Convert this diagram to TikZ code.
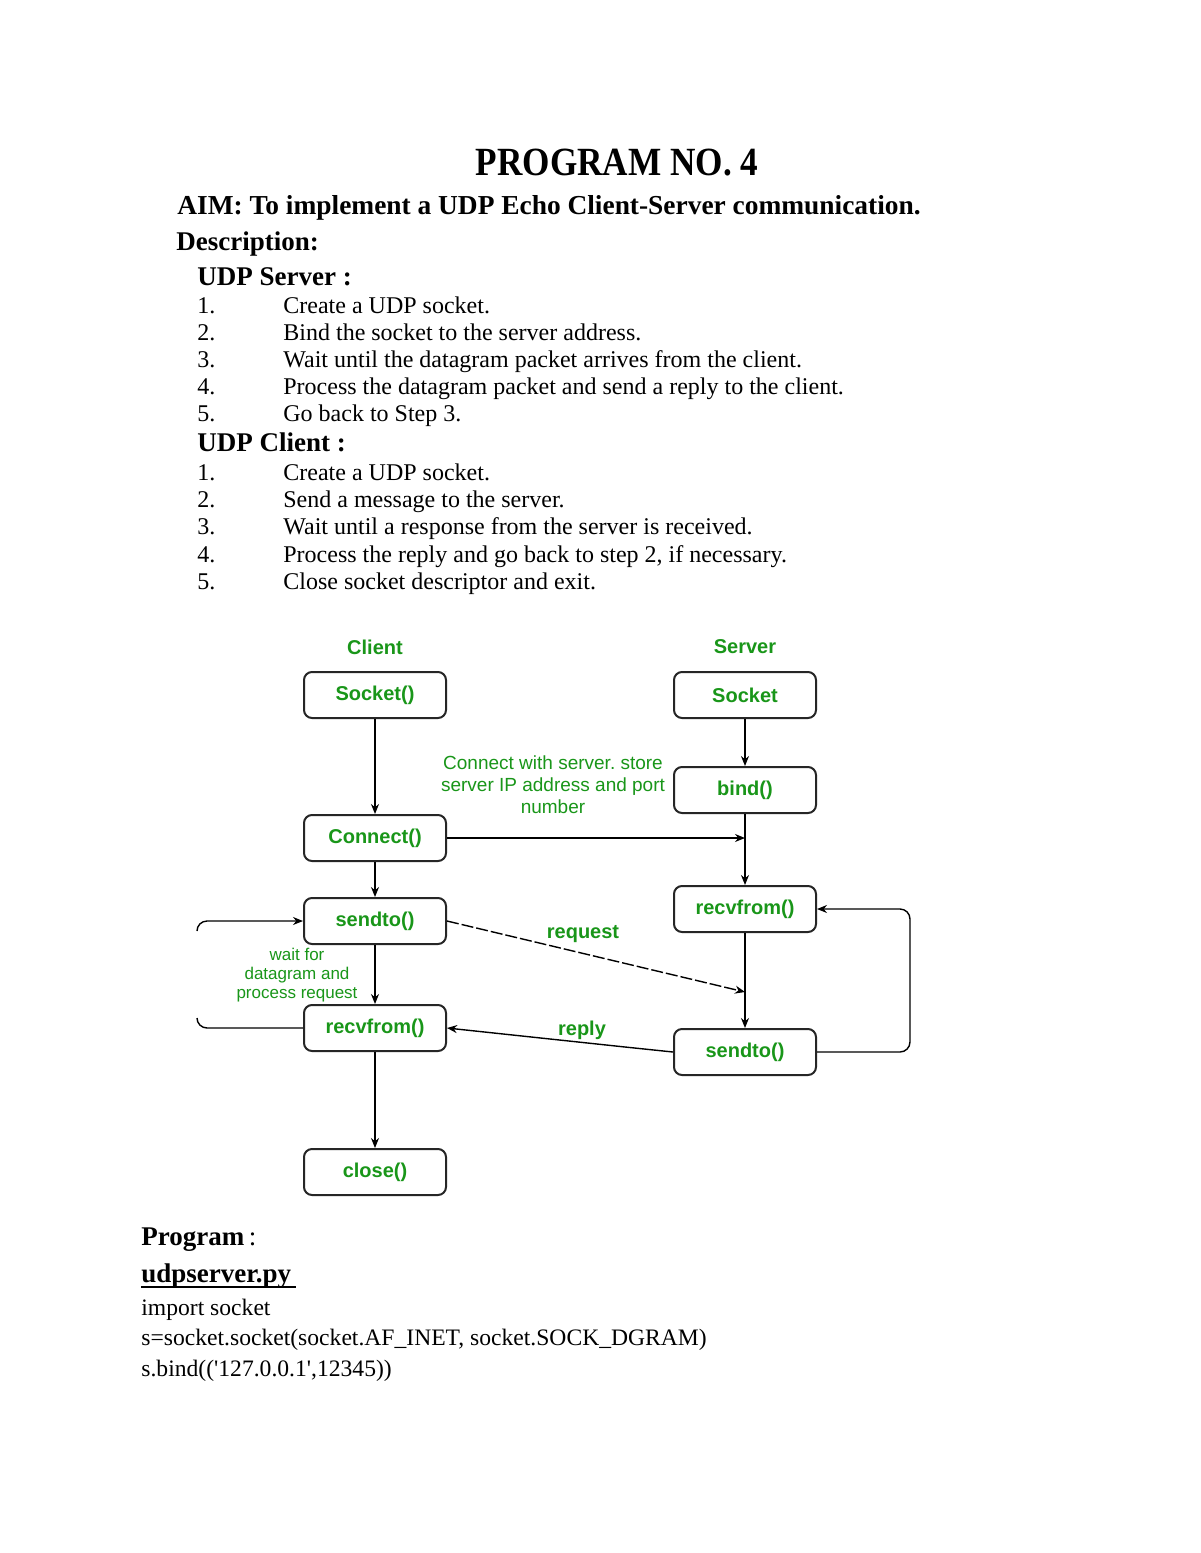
\documentclass[tikz,border=0pt]{standalone}
\usepackage{fontspec}
\setmainfont{Liberation Serif}
\newfontfamily\arialf{Liberation Sans}
\usetikzlibrary{arrows.meta}
\definecolor{gfg}{RGB}{25,150,25}
\begin{document}
\frenchspacing
\begin{tikzpicture}[x=0.5pt,y=-0.5pt,
  txt/.style={anchor=base west,inner sep=0pt,font=\fontsize{12}{14}\selectfont},
  box/.style={draw=black!85,line width=1pt,rounded corners=4pt,minimum width=71pt,minimum height=23pt,inner sep=0pt,
     font=\arialf\bfseries\fontsize{10}{12}\selectfont,text=gfg},
  lab/.style={font=\arialf\bfseries\fontsize{10}{12}\selectfont,text=gfg,inner sep=0pt},
  note/.style={text=gfg,align=center,inner sep=0pt},
  arr/.style={line width=0.7pt,-{Stealth[length=5pt,width=4pt]}},
  ln/.style={line width=0.7pt}]
\useasboundingbox[fill=white] (0,0) rectangle (1200,1553);

% ---- header text ----
\node[txt,anchor=base] (title) at (617,175) {\scalebox{0.88}[1]{\fontsize{20}{24}\selectfont\bfseries PROGRAM NO. 4}};
\node[txt] (aim) at (177,214) {\fontsize{13.7}{16}\selectfont\bfseries AIM: To implement a UDP Echo Client-Server communication.};
\node[txt] (desc) at (176,250) {\fontsize{13.5}{16}\selectfont\bfseries Description:};
\node[txt] (srvh) at (197,285) {\fontsize{13.5}{16}\selectfont\bfseries UDP Server :};
\node[txt] (s1n) at (197,313) {1.}; \node[txt] (s1) at (283,313) {Create a UDP socket.};
\node[txt] (s2n) at (197,340) {2.}; \node[txt] (s2) at (283,340) {Bind the socket to the server address.};
\node[txt] (s3n) at (197,367) {3.}; \node[txt] (s3) at (283,367) {Wait until the datagram packet arrives from the client.};
\node[txt] (s4n) at (197,394) {4.}; \node[txt] (s4) at (283,394) {Process the datagram packet and send a reply to the client.};
\node[txt] (s5n) at (197,421) {5.}; \node[txt] (s5) at (283,421) {Go back to Step 3.};
\node[txt] (clih) at (197,451) {\fontsize{13.5}{16}\selectfont\bfseries UDP Client :};
\node[txt] (c1n) at (197,480) {1.}; \node[txt] (c1) at (283,480) {Create a UDP socket.};
\node[txt] (c2n) at (197,507) {2.}; \node[txt] (c2) at (283,507) {Send a message to the server.};
\node[txt] (c3n) at (197,534) {3.}; \node[txt] (c3) at (283,534) {Wait until a response from the server is received.};
\node[txt] (c4n) at (197,562) {4.}; \node[txt] (c4) at (283,562) {Process the reply and go back to step 2, if necessary.};
\node[txt] (c5n) at (197,589) {5.}; \node[txt] (c5) at (283,589) {Close socket descriptor and exit.};

% ---- diagram ----
\node[lab] (clientlab) at (375,647) {Client};
\node[lab] (serverlab) at (745,647) {Server};

\node[box] (csock) at (375,695) {Socket()};
\node[box] (cconn) at (375,838) {Connect()};
\node[box] (csend) at (375,921) {sendto()};
\node[box] (crecv) at (375,1028) {recvfrom()};
\node[box] (cclose) at (375,1172) {close()};

\node[box] (ssock) at (745,695) {Socket};
\node[box] (sbind) at (745,790) {bind()};
\node[box] (srecv) at (745,909) {recvfrom()};
\node[box] (ssend) at (745,1052) {sendto()};

\draw[arr] (csock) -- (cconn);
\draw[arr] (cconn) -- (csend);
\draw[arr] (csend) -- (crecv);
\draw[arr] (crecv) -- (cclose);
\draw[arr] (ssock) -- (sbind);
\draw[arr] (sbind) -- (srecv);
\draw[arr] (srecv) -- (ssend);

\coordinate (cj) at (745,838);
\draw[arr] (cconn.east) -- (cj);

\coordinate (rq) at (745,992);
\draw[arr,dash pattern=on 6pt off 1.5pt] (csend.east) -- (rq);
\node[lab] (reqlab) at (583,934) {request};

\coordinate (rpb) at (625,1047);
\draw[arr] (ssend.west) -- (rpb) -- (crecv.east);
\node[lab] (replab) at (582,1030) {reply};

\coordinate (sl1) at (910,1052);
\coordinate (sl2) at (910,909);
\draw[arr,rounded corners=5pt] (ssend.east) -- (sl1) -- (sl2) -- (srecv.east);

\coordinate (cl1) at (197,1028);
\coordinate (cl1e) at (197,1018);
\coordinate (cl2) at (197,921);
\coordinate (cl2s) at (197,931);
\draw[ln,rounded corners=5pt] (crecv.west) -- (cl1) -- (cl1e);
\draw[arr,rounded corners=5pt] (cl2s) -- (cl2) -- (csend.west);

\node[note,font=\arialf\fontsize{9.5}{11}\selectfont] (conntxt) at (553,785) {Connect with server. store\\server IP address and port\\number};
\node[note,font=\arialf\fontsize{8.5}{9.5}\selectfont] (waittxt) at (297,975) {wait for\\datagram and\\process request};

% ---- program ----
\node[txt] (prog) at (141,1245) {\fontsize{13.5}{16}\selectfont\bfseries Program\,\mdseries:};
\node[txt] (fname) at (141,1282) {\fontsize{13.5}{16}\selectfont\bfseries udpserver.py};
\draw[line width=1pt] (141,1287) -- (296,1287);
\node[txt,font=\fontsize{11.8}{14}\selectfont] (code1) at (141,1315) {import socket};
\node[txt,font=\fontsize{11.8}{14}\selectfont] (code2) at (141,1345) {s=socket.socket(socket.AF\_INET, socket.SOCK\_DGRAM)};
\node[txt,font=\fontsize{11.8}{14}\selectfont] (code3) at (141,1376) {s.bind((\textquotesingle 127.0.0.1\textquotesingle,12345))};
\end{tikzpicture}
\end{document}
